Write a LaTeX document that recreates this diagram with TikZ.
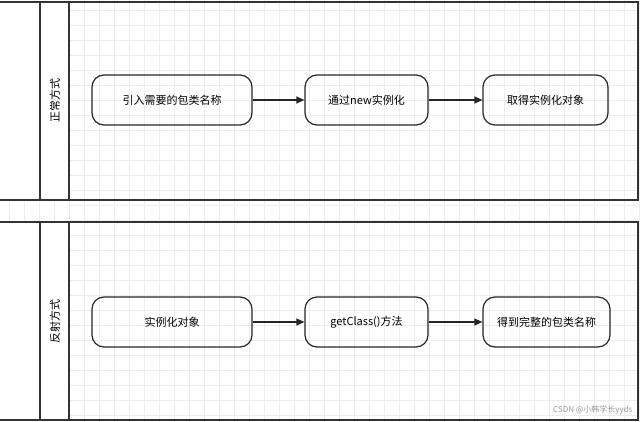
\documentclass[tikz,border=0pt]{standalone}
\usepackage{fontspec}
\setmainfont{Noto Sans CJK SC}
\usetikzlibrary{positioning,arrows.meta}
\tikzset{
  stage/.style={draw=black!85,line width=1.2pt,rounded corners=12pt,minimum height=50pt,font=\fontsize{11}{13}\selectfont},
  flow/.style={-{Triangle[length=8pt,width=7pt]},line width=1.2pt,black!85},
  lane/.style={draw=black!80,line width=1.5pt},
}
\begin{document}
\begin{tikzpicture}[x=1pt,y=-1pt]
\useasboundingbox (0,0) rectangle (640,422);
\fill[white] (0,0) rectangle (640,422);
% grid
\foreach \x in {69,84,...,640} \draw[black!7,line width=0.6pt] (\x,0) -- (\x,422);
\foreach \y in {10,25,...,422} \draw[black!7,line width=0.6pt] (69,\y) -- (640,\y);
\foreach \x in {9,24,39,54} \draw[black!7,line width=0.6pt] (\x,200) -- (\x,222);
\fill[white] (0,2) rectangle (69,200);
\fill[white] (0,222) rectangle (69,420);
% lanes
\draw[lane] (-2,2) rectangle (638,200);
\draw[lane] (40,2) -- (40,200) (69,2) -- (69,200);
\draw[lane] (-2,222) rectangle (638,420);
\draw[lane] (40,222) -- (40,420) (69,222) -- (69,420);
\node[rotate=90,font=\fontsize{11}{13}\selectfont] (laneA) at (55,101) {正常方式};
\node[rotate=90,font=\fontsize{11}{13}\selectfont] (laneB) at (55,321) {反射方式};
% normal
\node[stage,minimum width=160pt] (imp) at (172,100) {引入需要的包类名称};
\node[stage,minimum width=123pt] (new) at (366.5,100) {通过new实例化};
\node[stage,minimum width=125pt] (obj) at (545.5,100) {取得实例化对象};
\draw[flow] (imp) -- (new);
\draw[flow] (new) -- (obj);
% reflect
\node[stage,minimum width=160pt] (inst) at (172,322) {实例化对象};
\node[stage,minimum width=123pt] (get) at (366.5,322) {getClass()方法};
\node[stage,minimum width=127pt] (full) at (546.5,322) {得到完整的包类名称};
\draw[flow] (inst) -- (get);
\draw[flow] (get) -- (full);
\node[anchor=south east,text=black!40,font=\fontsize{8}{9}\selectfont] (mark) at (636,418) {CSDN @小韩学长yyds};
\end{tikzpicture}
\end{document}
